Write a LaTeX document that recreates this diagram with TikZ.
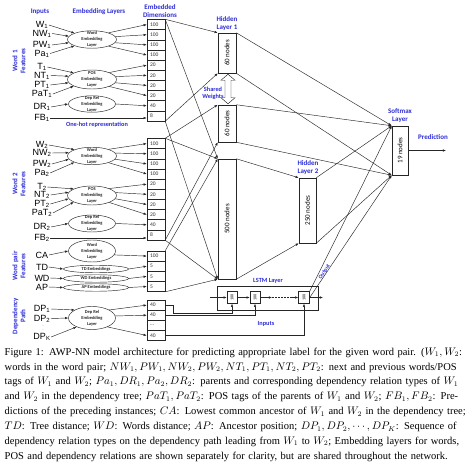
\documentclass[tikz,border=0pt]{standalone}
\usepackage{fontspec}
\setmainfont{Liberation Serif}
\newfontfamily\dgf{Carlito}
\newfontfamily\lsf{Liberation Sans}
\usetikzlibrary{shapes.geometric,arrows.meta,calc}
\definecolor{lblue}{RGB}{45,45,215}
\begin{document}
\begin{tikzpicture}[x=1pt,y=-1pt,
  ln/.style={draw=black!85,line width=0.45pt},
  arr/.style={ln,-{Latex[length=3.2pt,width=2.4pt]}},
  hdr/.style={text=lblue,font=\dgf\bfseries\fontsize{7}{8}\selectfont,align=center,inner sep=0},
  shdr/.style={text=lblue,font=\dgf\bfseries\fontsize{6.3}{7}\selectfont,align=center,inner sep=0},
  inp/.style={font=\lsf\fontsize{9}{9}\selectfont,inner sep=0.5pt},
  ell/.style={draw=black!85,line width=0.45pt,ellipse,inner sep=0},
  etxt/.style={font=\dgf\bfseries\fontsize{4.5}{5.8}\selectfont,align=center,inner sep=0,text=black!85},
  dimbox/.style={draw=black!85,line width=0.4pt,inner xsep=3pt,inner ysep=0pt,text width=12pt,minimum height=10.15pt,align=left,font=\dgf\fontsize{5.5}{5.5}\selectfont,text=black!80},
  layerbox/.style={draw=black!85,line width=0.5pt,inner sep=0},
  htxt/.style={rotate=90,font=\dgf\fontsize{7}{7}\selectfont,inner sep=0},
  ctxt/.style={rotate=90,font=\dgf\fontsize{4.2}{4.2}\selectfont,inner sep=0}
]
\fill[white] (0,0) rectangle (474,470);
\useasboundingbox (0,0) rectangle (474,470);

% ---------- headers ----------
\node[hdr] (hIn) at (40,12) {Inputs};
\node[hdr] (hEmb) at (99,12) {Embedding Layers};
\node[hdr] (hDim) at (160,11.5) {Embedded\\Dimensions};
\node[hdr] (hH1) at (227,24) {Hidden\\Layer 1};
\node[hdr] (hH2) at (308,168) {Hidden\\Layer 2};
\node[hdr] (hSm) at (400,116) {Softmax\\Layer};
\node[hdr] (hPred) at (433,137) {Prediction};
\node[shdr] (hShared) at (213,93) {Shared\\Weights};
\node[shdr] (hOneHot) at (97,124.5) {One-hot representation};
\node[shdr] (hLSTM) at (268,281) {LSTM Layer};
\node[shdr] (hInp2) at (266,324) {Inputs};
\node[hdr,rotate=90] (g1) at (19,61) {Word 1\\Features};
\node[hdr,rotate=90] (g2) at (19,184) {Word 2\\Features};
\node[hdr,rotate=90] (gp) at (19,266) {Word pair\\Features};
\node[hdr,rotate=90] (gd) at (19,316) {Dependency\\Path};

% ---------- input labels ----------
\foreach \nm/\yy in {W/25,NW/33.5,PW/45,Pa/53.5,T/67,NT/75.5,PT/85,PaT/94,DR/107,FB/118}
  \node[inp] (i\nm1) at (42,\yy) {\nm\textsubscript{1}};
\foreach \nm/\yy in {W/145,NW/153,PW/164,Pa/173,T/187,NT/195,PT/204,PaT/213,DR/227,FB/238}
  \node[inp] (i\nm2) at (42,\yy) {\nm\textsubscript{2}};
\foreach \nm/\yy in {CA/255,TD/267,WD/278,AP/287}
  \node[inp] (i\nm) at (42,\yy) {\nm};
\node[inp] (iDP1) at (42,309) {DP\textsubscript{1}};
\node[inp] (iDP2) at (42,318.5) {DP\textsubscript{2}};
\node[inner sep=0,font=\fontsize{4}{4}\selectfont] (iDots) at (43,327) {$\vdots$};
\node[inp] (iDPK) at (42,337) {DP\textsubscript{K}};

% ---------- embedding ellipses ----------
\node[ell,minimum width=49pt,minimum height=17.5pt] (ew1) at (92,39.5) {};
\node[etxt] (ew1t) at (ew1) {Word\\Embedding\\Layer};
\node[ell,minimum width=49pt,minimum height=19pt] (ep1) at (92,79.5) {};
\node[etxt] (ep1t) at (ep1) {POS\\Embedding\\Layer};
\node[ell,minimum width=47pt,minimum height=16.5pt] (ed1) at (92,104) {};
\node[etxt] (ed1t) at (ed1) {Dep Rel\\Embedding\\Layer};

\node[ell,minimum width=49pt,minimum height=17.5pt] (ew2) at (92,156) {};
\node[etxt] (ew2t) at (ew2) {Word\\Embedding\\Layer};
\node[ell,minimum width=49pt,minimum height=19pt] (ep2) at (92,195.5) {};
\node[etxt] (ep2t) at (ep2) {POS\\Embedding\\Layer};
\node[ell,minimum width=47pt,minimum height=17pt] (ed2) at (92,223.5) {};
\node[etxt] (ed2t) at (ed2) {Dep Rel\\Embedding\\Layer};

\node[ell,minimum width=47pt,minimum height=22pt] (epw) at (92,251) {};
\node[etxt] (epwt) at (epw) {Word\\Embedding\\Layer};
\node[ell,minimum width=65pt,minimum height=7.5pt] (etd) at (96,269) {};
\node[etxt] (etdt) at (etd) {TD Embeddings};
\node[ell,minimum width=65pt,minimum height=7.5pt] (ewd) at (96,278.5) {};
\node[etxt] (ewdt) at (ewd) {WD Embeddings};
\node[ell,minimum width=65pt,minimum height=7.5pt] (eap) at (96,287.5) {};
\node[etxt] (eapt) at (eap) {AP Embeddings};

\node[ell,minimum width=47pt,minimum height=23pt] (edp) at (92,318) {};
\node[etxt] (edpt) at (edp) {Dep Rel\\Embedding\\Layer};

% ---------- embedded dimension boxes ----------
\foreach \v [count=\i] in {100,100,100,100,20,20,20,20,40,8}
  \node[dimbox] (a\i) at (156,{19.5+10.15*(\i-0.5)}) {\v};
\foreach \v [count=\i] in {100,100,100,100,20,20,20,20,40,8}
  \node[dimbox] (b\i) at (156,{138.5+10.15*(\i-0.5)}) {\v};
\foreach \v [count=\i] in {100,5,5,5}
  \node[dimbox] (c\i) at (156,{251+10.15*(\i-0.5)}) {\v};
\node[dimbox] (d1) at (156,305.1) {40};
\node[dimbox] (d2) at (156,315.2) {40};
\node[dimbox] (d3) at (156,325.4) {...};
\node[dimbox] (d4) at (156,335.5) {40};

% ---------- hidden layers ----------
\node[layerbox,minimum width=18pt,minimum height=40pt] (h1) at (227,53) {};
\node[htxt] (h1t) at (h1) {60 nodes};
\node[layerbox,minimum width=18pt,minimum height=37pt] (h2) at (227,123.5) {};
\node[htxt] (h2t) at (h2) {60 nodes};
\node[layerbox,minimum width=18pt,minimum height=120pt] (h5) at (227,219) {};
\node[htxt] (h5t) at (h5) {500 nodes};
\node[layerbox,minimum width=17pt,minimum height=65pt] (hl2) at (307.5,210.5) {};
\node[htxt] (hl2t) at (hl2) {250 nodes};
\node[layerbox,minimum width=16pt,minimum height=49pt] (sm) at (400,150.5) {};
\node[htxt] (smt) at (sm) {19 nodes};
\coordinate (pred) at (446,150.5);

% shared weights double arrow
\coordinate (swt) at ($(h1.south)+(1,1)$);
\coordinate (swb) at ($(h2.north)+(1,-1)$);
\draw[ln,fill=white] (swt) -- ++(7,6) -- ++(-4,0) -- ($(swb)+(3,-6)$) -- ++(4,0) -- (swb)
  -- ++(-7,-6) -- ++(4,0) -- ($(swt)+(-3,6)$) -- ++(-4,0) -- cycle;

% ---------- LSTM ----------
\node[layerbox,minimum width=101pt,minimum height=24pt] (lstm) at (267.5,298) {};
\node[layerbox,minimum width=10pt,minimum height=12pt] (l1) at (232,297.5) {};
\node[ctxt] (l1t) at (l1) {100};
\node[layerbox,minimum width=10pt,minimum height=12pt] (l2) at (255,297.5) {};
\node[ctxt] (l2t) at (l2) {100};
\node[layerbox,minimum width=11pt,minimum height=12pt] (l3) at (304,297.5) {};
\node[ctxt] (l3t) at (l3) {100};
\coordinate (lin) at (210,297.5);
\coordinate (lda) at (272,297.5);
\coordinate (ldc) at (290,297.5);
\coordinate (lout) at (323,297.5);

% ---------- connectors: inputs to embeddings ----------
\foreach \g/\rw in {1/a,2/b}{
  \draw[arr] (iW\g.east) -- (ew\g.160);
  \draw[arr] (iNW\g.east) -- (ew\g.172);
  \draw[arr] (iPW\g.east) -- (ew\g.188);
  \draw[arr] (iPa\g.east) -- (ew\g.200);
  \draw[arr] (iT\g.east) -- (ep\g.160);
  \draw[arr] (iNT\g.east) -- (ep\g.172);
  \draw[arr] (iPT\g.east) -- (ep\g.188);
  \draw[arr] (iPaT\g.east) -- (ep\g.200);
  \draw[arr] (iDR\g.east) -- (ed\g.west);
  \draw[arr] (iFB\g.east) -- (iFB\g.east -| \rw10.west);
  \draw[arr] (ew\g.22) -- (\rw1.west);
  \draw[arr] (ew\g.7) -- (\rw2.west);
  \draw[arr] (ew\g.-8) -- (\rw3.west);
  \draw[arr] (ew\g.-22) -- (\rw4.west);
  \draw[arr] (ep\g.22) -- (\rw5.west);
  \draw[arr] (ep\g.7) -- (\rw6.west);
  \draw[arr] (ep\g.-8) -- (\rw7.west);
  \draw[arr] (ep\g.-22) -- (\rw8.west);
  \draw[arr] (ed\g.east) -- (\rw9.west);
}
\draw[arr] (iCA.east) -- (epw.west);
\draw[arr] (epw.-10) -- (c1.west);
\draw[arr] (iTD.east) -- (etd.west);
\draw[arr] (etd.east) -- (c2.west);
\draw[arr] (iWD.east) -- (ewd.west);
\draw[arr] (ewd.east) -- (c3.west);
\draw[arr] (iAP.east) -- (eap.west);
\draw[arr] (eap.east) -- (c4.west);
\draw[arr] (iDP1.east) -- (edp.155);
\draw[arr] (iDP2.east) -- (edp.180);
\draw[arr] (iDPK.east) -- (edp.210);
\draw[arr] (edp.25) -- (d1.west);
\draw[arr] (edp.5) -- (d2.west);
\draw[arr] (edp.-30) -- (d4.west);

% ---------- connectors: embeddings to hidden ----------
\draw[arr] (a1.north east) -- (h1.north west);
\draw[arr] (a10.south east) -- (h1.south west);
\draw[arr] (a1.north east) -- (h5.north west);
\draw[arr] (a10.south east) -- (h5.south west);
\draw[arr] (b1.north east) -- (h2.north west);
\draw[arr] (b10.south east) -- (h2.south west);
\draw[arr] (b1.north east) -- (h5.north west);
\draw[arr] (b10.south east) -- (h5.south west);
\draw[arr] (c1.north east) -- (h5.north west);
\draw[arr] (c4.south east) -- (h5.south west);

\draw[arr] (h5.north east) -- (hl2.north west);
\draw[arr] (h5.south east) -- (hl2.south west);
\draw[arr] (h1.north east) -- (sm.north west);
\draw[arr] (h1.south east) -- (sm.south west);
\draw[arr] (h2.north east) -- (sm.north west);
\draw[arr] (h2.south east) -- (sm.south west);
\draw[arr] (hl2.north east) -- (sm.north west);
\draw[arr] (hl2.south east) -- (sm.south west);
\draw[arr] (l3.north east) -- (sm.north west);
\draw[arr] (l3.east) -- (sm.south west)
  node[pos=0.2,sloped,above=-0.5pt,shdr,font=\dgf\bfseries\fontsize{5.5}{6}\selectfont] (outl) {Output};
\draw[arr] (sm.east) -- (pred);

% ---------- LSTM connectors ----------
\draw[arr] (lin) -- (l1.west);
\draw[arr] (l1.east) -- (l2.west);
\draw[arr] (l2.east) -- (lda);
\draw[ln,dash pattern=on 1.5pt off 1.5pt] (lda) -- (ldc);
\draw[arr] (ldc) -- (l3.west);
\draw[arr] (l3.east) -- (lout);
\draw[arr] (d1.east) -- ++(8,0) |- ($(l1.south)+(0,9.5)$) -- (l1.south);
\draw[arr] (d2.east) -| (l2.south);
\draw[arr] (d4.east) -| (l3.south);

% ---------- caption ----------
\node[anchor=north west,inner sep=0,text width=466pt,align=left,font=\fontsize{10.5}{14.86}\selectfont] (cap) at (4.5,347.5) {%
\makebox[\linewidth][s]{Figure 1: AWP-NN model architecture for predicting appropriate label for the given word pair. ($W_1, W_2$:}\\
\makebox[\linewidth][s]{words in the word pair; $NW_1, PW_1, NW_2, PW_2, NT_1, PT_1, NT_2, PT_2$: next and previous words/POS}\\
\makebox[\linewidth][s]{tags of $W_1$ and $W_2$; $Pa_1, DR_1, Pa_2, DR_2$: parents and corresponding dependency relation types of $W_1$}\\
\makebox[\linewidth][s]{and $W_2$ in the dependency tree; $PaT_1, PaT_2$: POS tags of the parents of $W_1$ and $W_2$; $FB_1, FB_2$: Pre-}\\
\makebox[\linewidth][s]{dictions of the preceding instances; $CA$: Lowest common ancestor of $W_1$ and $W_2$ in the dependency tree;}\\
\makebox[\linewidth][s]{$TD$: Tree distance; $WD$: Words distance; $AP$: Ancestor position; $DP_1, DP_2, \cdots, DP_K$: Sequence of}\\
\makebox[\linewidth][s]{dependency relation types on the dependency path leading from $W_1$ to $W_2$; Embedding layers for words,}\\
\makebox[\linewidth][s]{POS and dependency relations are shown separately for clarity, but are shared throughout the network.}};
\end{tikzpicture}
\end{document}
